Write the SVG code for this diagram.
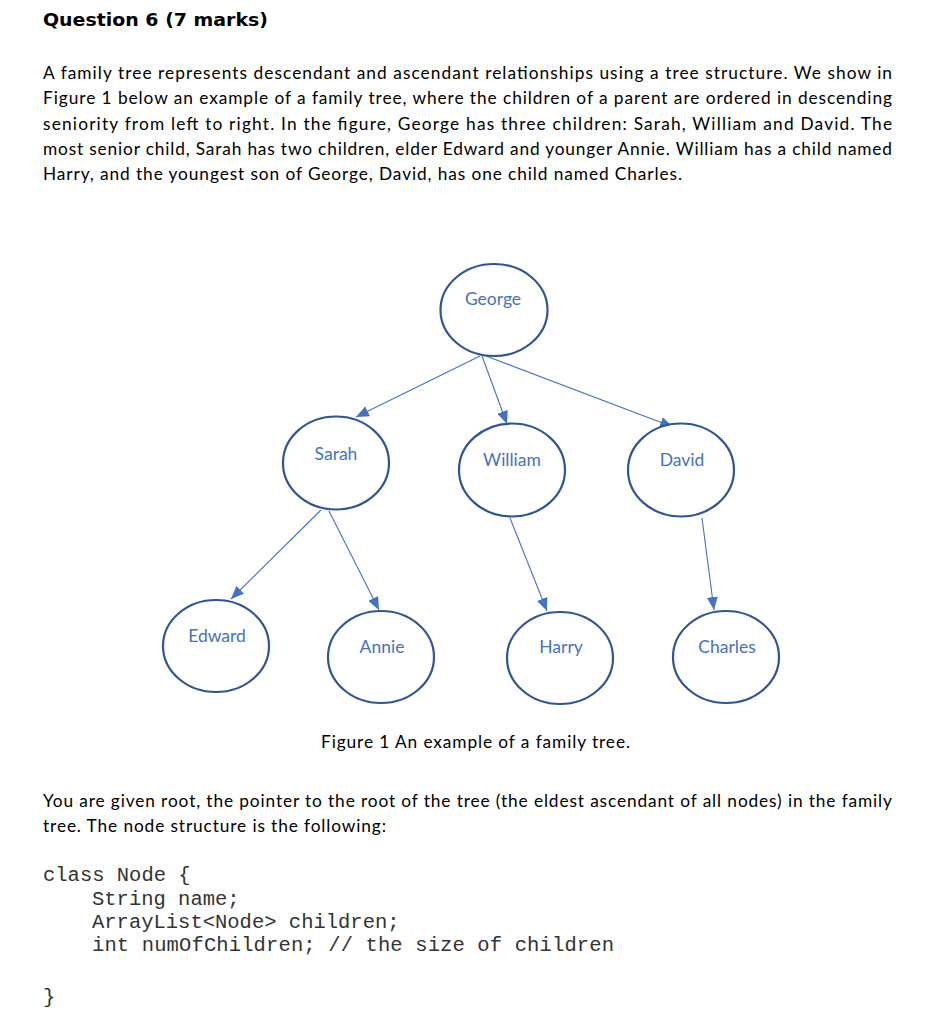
<svg xmlns="http://www.w3.org/2000/svg" width="933" height="1024" viewBox="0 0 933 1024">
<style>
.title{font-family:"DejaVu Sans",Verdana,sans-serif;font-weight:bold;font-size:18px;fill:#000}
.body{font-family:Lato,"Open Sans",sans-serif;font-size:17.3px;fill:#000}
.code{font-family:"Liberation Mono","Courier New",monospace;font-size:20.5px;fill:#333}
.node ellipse{fill:#fff;stroke:#2F5597;stroke-width:2.2}
.node text{font-family:Lato,"Open Sans",sans-serif;font-size:17.5px;fill:#4472C4;text-anchor:middle}
.edge{stroke:#4472C4;stroke-width:1.1;fill:none;marker-end:url(#arr)}
</style>
<defs>
<marker id="arr" viewBox="0 0 13 11" refX="13" refY="5.5" markerWidth="13" markerHeight="11" markerUnits="userSpaceOnUse" orient="auto">
<path d="M0,0 L13,5.5 L0,11 z" fill="#4472C4"/>
</marker>
</defs>
<rect width="933" height="1024" fill="#fff"/>
<text class="title" x="43" y="26" textLength="225" lengthAdjust="spacingAndGlyphs">Question 6 (7 marks)</text>
<g id="intro">
<text class="body" x="43" y="79" textLength="849" lengthAdjust="spacing">A family tree represents descendant and ascendant relationships using a tree structure. We show in</text>
<text class="body" x="43" y="104" textLength="849" lengthAdjust="spacing">Figure 1 below an example of a family tree, where the children of a parent are ordered in descending</text>
<text class="body" x="43" y="130" textLength="849" lengthAdjust="spacing">seniority from left to right. In the figure, George has three children: Sarah, William and David. The</text>
<text class="body" x="43" y="155" textLength="849" lengthAdjust="spacing">most senior child, Sarah has two children, elder Edward and younger Annie. William has a child named</text>
<text class="body" x="43" y="180" textLength="639" lengthAdjust="spacing">Harry, and the youngest son of George, David, has one child named Charles.</text>
</g>
<g id="connectors">
<path class="edge" d="M480,356 L356,417"/>
<path class="edge" d="M482,356 L507,424"/>
<path class="edge" d="M486,356 L673,427"/>
<path class="edge" d="M321,510 L231,599"/>
<path class="edge" d="M329,511 L379,610"/>
<path class="edge" d="M510,518 L547,611"/>
<path class="edge" d="M702,518 L714,610"/>
</g>
<g id="george" class="node"><ellipse cx="494" cy="310" rx="53.5" ry="46"/><text x="493" y="305">George</text></g>
<g id="sarah" class="node"><ellipse cx="336" cy="463" rx="53" ry="46.5"/><text x="336" y="460">Sarah</text></g>
<g id="william" class="node"><ellipse cx="512" cy="470" rx="53" ry="46.5"/><text x="512" y="466">William</text></g>
<g id="david" class="node"><ellipse cx="681" cy="470" rx="53" ry="46.5"/><text x="682" y="466">David</text></g>
<g id="edward" class="node"><ellipse cx="216" cy="646" rx="53" ry="46"/><text x="217" y="642">Edward</text></g>
<g id="annie" class="node"><ellipse cx="381" cy="657" rx="53" ry="46"/><text x="382" y="653">Annie</text></g>
<g id="harry" class="node"><ellipse cx="560" cy="658" rx="53" ry="46"/><text x="561" y="653">Harry</text></g>
<g id="charles" class="node"><ellipse cx="726" cy="657" rx="53" ry="46"/><text x="727" y="653">Charles</text></g>
<text class="body" x="321" y="748" textLength="309" lengthAdjust="spacing">Figure 1 An example of a family tree.</text>
<g id="question">
<text class="body" x="43" y="807" textLength="849" lengthAdjust="spacing">You are given root, the pointer to the root of the tree (the eldest ascendant of all nodes) in the family</text>
<text class="body" x="43" y="832" textLength="343" lengthAdjust="spacing">tree. The node structure is the following:</text>
</g>
<g id="code">
<text class="code" x="43" y="881">class Node {</text>
<text class="code" x="92" y="905">String name;</text>
<text class="code" x="92" y="928">ArrayList&lt;Node&gt; children;</text>
<text class="code" x="92" y="951" textLength="522" lengthAdjust="spacing">int numOfChildren; // the size of children</text>
<text class="code" x="43" y="1003">}</text>
</g>
</svg>
